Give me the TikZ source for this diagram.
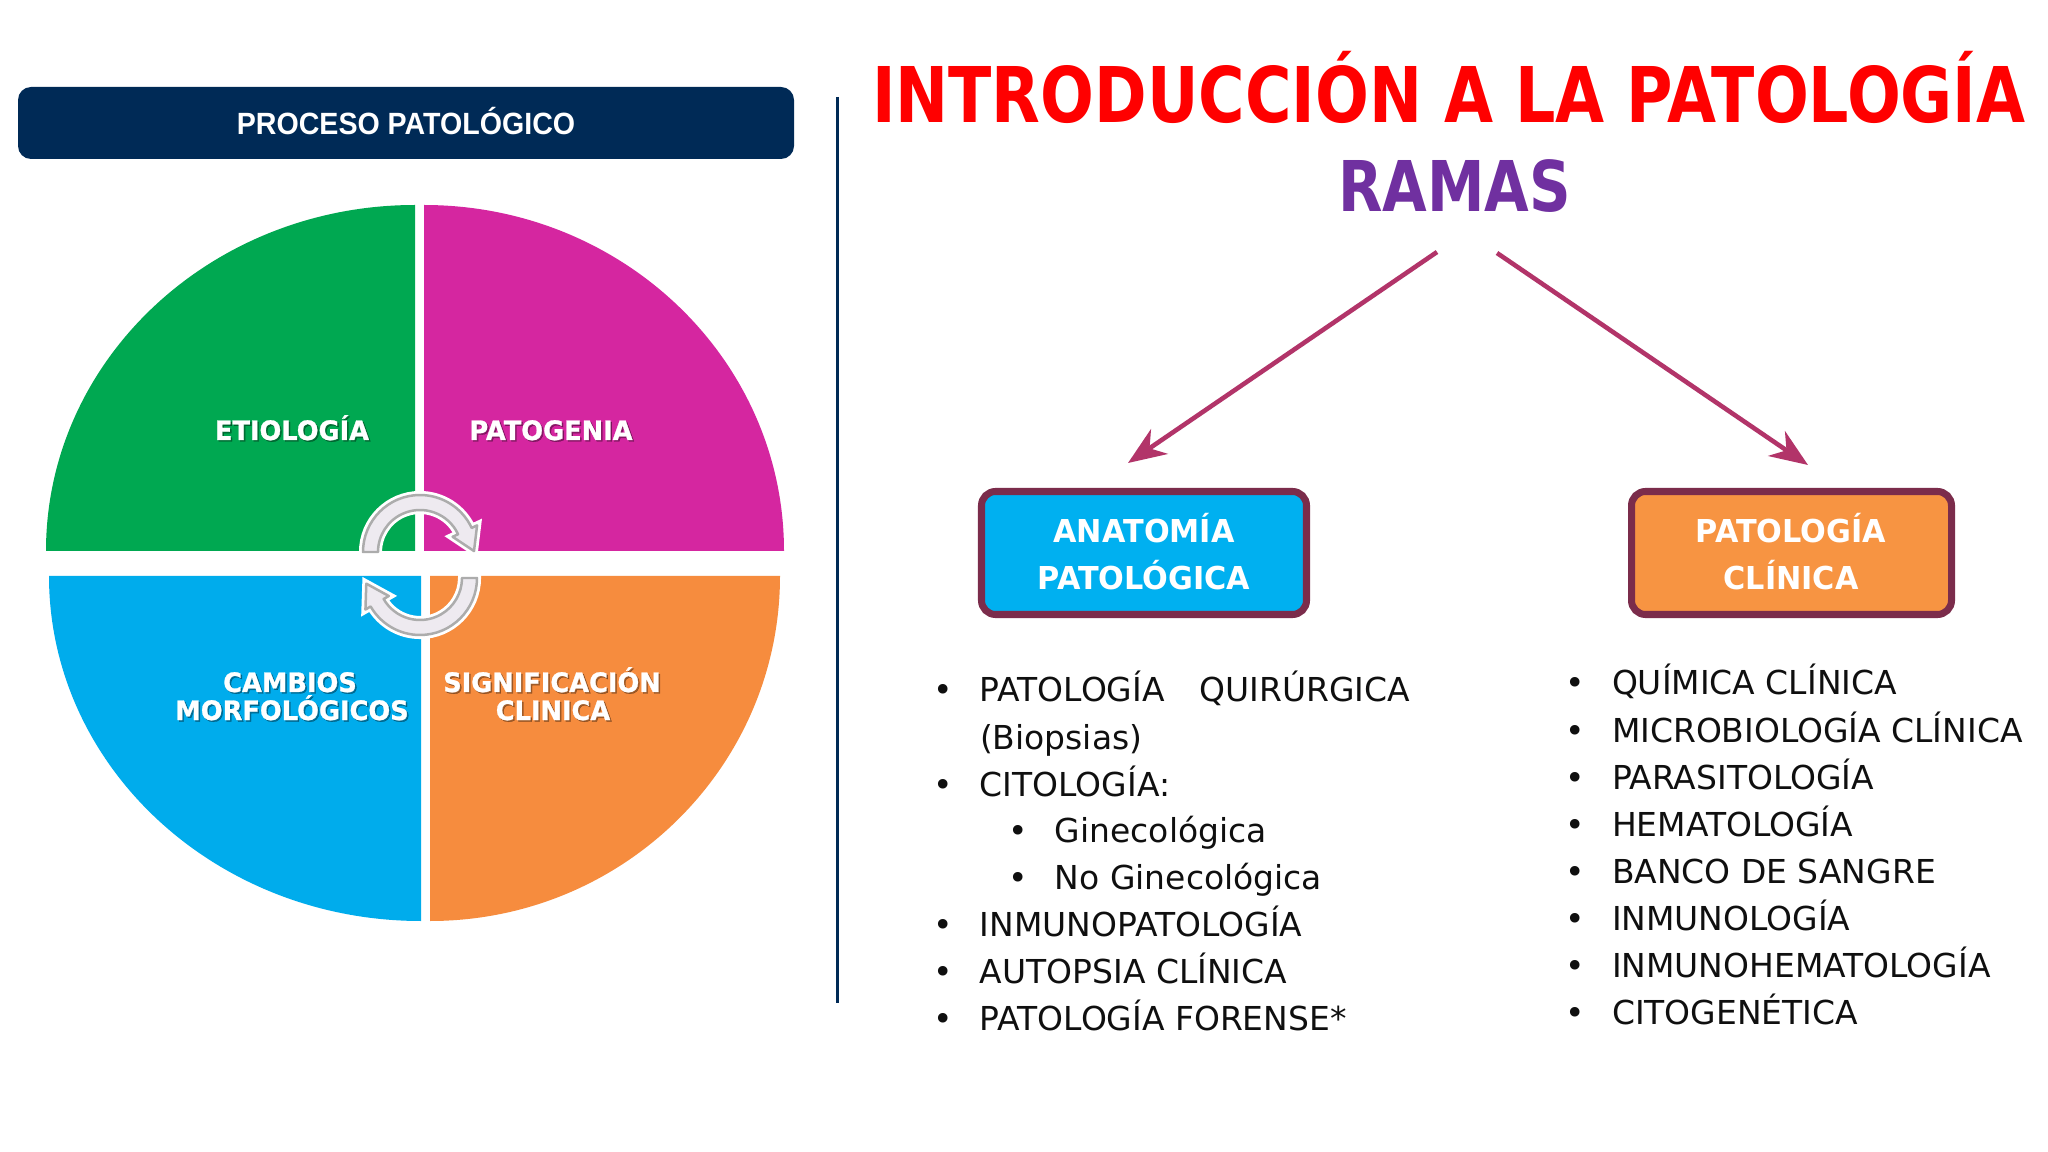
\documentclass[tikz,border=0pt]{standalone}
\usepackage{fontspec}
\setmainfont{DejaVu Sans}
\newfontfamily\titlef{DejaVu Sans}[FakeStretch=0.825]
\newfontfamily\headf{Liberation Sans}[FakeStretch=0.93]
\newfontfamily\pief{DejaVu Sans}[FakeStretch=0.96]
\newfontfamily\pieheavy{DejaVu Sans}[FakeStretch=0.96, FakeBold=1]
\newfontfamily\listf{DejaVu Sans}
\usetikzlibrary{arrows.meta}
\newlength\pxu
\setlength\pxu{0.01cm}
\definecolor{navy}{RGB}{0,42,86}
\definecolor{pgreen}{RGB}{0,168,81}
\definecolor{pmag}{RGB}{213,38,160}
\definecolor{pblue}{RGB}{0,172,236}
\definecolor{porange}{RGB}{246,140,62}
\definecolor{tred}{RGB}{255,0,0}
\definecolor{tpurple}{RGB}{112,48,160}
\definecolor{arrowc}{RGB}{178,52,105}
\definecolor{boxborder}{RGB}{123,44,75}
\definecolor{boxblue}{RGB}{0,176,240}
\definecolor{boxorange}{RGB}{247,148,66}
\definecolor{txt}{RGB}{15,15,15}
\definecolor{cycfill}{RGB}{238,234,240}
\begin{document}
\begin{tikzpicture}[x=0.01cm,y=-0.01cm,
  every node/.style={inner sep=0pt, outer sep=0pt},
  pielabel/.style={text=white, font=\pieheavy\bfseries\fontsize{7.6pt}{8pt}\selectfont, anchor=base},
  pieshadow/.style={text=black, opacity=0.35, font=\pieheavy\bfseries\fontsize{7.6pt}{8pt}\selectfont, anchor=base},
  cyc/.style={draw=gray!65, line width=0.71pt, fill=cycfill, line join=round, preaction={draw=white, line width=2.3pt}},
  branchbox/.style={draw=boxborder, line width=2pt, rounded corners=4pt, minimum height=123\pxu},
  boxtext/.style={text=white, anchor=base, font=\pief\bfseries\fontsize{8.97pt}{10pt}\selectfont},
  listitem/.style={anchor=base west, text=txt, font=\listf\fontsize{9.37pt}{11pt}\selectfont},
  branch/.style={draw=arrowc, line width=1.3pt, -{Stealth[length=10.8pt, width=8.5pt, inset=3.4pt]}}
]
\useasboundingbox (0,0) rectangle (2048,1152);
\fill[white] (0,0) rectangle (2048,1152);

% ---------- left panel ----------
\node[fill=navy, rounded corners=3.7pt, minimum width=776\pxu, minimum height=72\pxu,
      text=white, text height=6.26pt, text depth=0pt,
      font=\headf\bfseries\fontsize{8.74pt}{10pt}\selectfont] (hdr) at (406,123) {PROCESO PATOLÓGICO};

\fill[pgreen] (415,551) -- (46,551) arc[start angle=180,end angle=270,x radius=369,y radius=346] -- cycle;
\fill[pmag] (424,551) -- (424,205) arc[start angle=270,end angle=360,x radius=360,y radius=346] -- cycle;
\fill[pblue] (421,576) -- (421,921) arc[start angle=90,end angle=180,x radius=372,y radius=345] -- cycle;
\fill[porange] (430,576) -- (780,576) arc[start angle=0,end angle=90,x radius=350,y radius=345] -- cycle;

\begin{scope}[shift={(420,552)}]
  \draw[cyc] (180:57) arc[start angle=180,end angle=335,radius=57] -- (335:63) -- (359:54) -- (335:36) -- (335:42) arc[start angle=335,end angle=180,radius=42] -- cycle;
\end{scope}
\begin{scope}[shift={(420,578)}]
  \draw[cyc] (0:57) arc[start angle=0,end angle=150,radius=57] -- (150:63) -- (174:54) -- (150:36) -- (150:42) arc[start angle=150,end angle=0,radius=42] -- cycle;
\end{scope}

\node[pieshadow] (etioS) at (293.5,441.5) {ETIOLOGÍA};
\node[pielabel]  (etio)  at (292,440) {ETIOLOGÍA};
\node[pieshadow] (patoS) at (552.5,441.5) {PATOGENIA};
\node[pielabel]  (pato)  at (551,440) {PATOGENIA};
\node[pieshadow] (camAS) at (291.5,693.5) {CAMBIOS};
\node[pielabel]  (camA)  at (290,692) {CAMBIOS};
\node[pieshadow] (camBS) at (293.5,721.5) {MORFOLÓGICOS};
\node[pielabel]  (camB)  at (292,720) {MORFOLÓGICOS};
\node[pieshadow] (sigAS) at (553.5,693.5) {SIGNIFICACIÓN};
\node[pielabel]  (sigA)  at (552,692) {SIGNIFICACIÓN};
\node[pieshadow] (sigBS) at (554.5,721.5) {CLINICA};
\node[pielabel]  (sigB)  at (553,720) {CLINICA};

\draw[navy, line width=0.85pt] (837,97) -- (837,1003);

% ---------- right panel ----------
\node[anchor=base west, text=tred, font=\titlef\bfseries\fontsize{21.85pt}{24pt}\selectfont] (title) at (872,123) {INTRODUCCIÓN A LA PATOLOGÍA};
\node[anchor=base west, text=tpurple, font=\titlef\bfseries\fontsize{19.9pt}{22pt}\selectfont] (ramas) at (1338,212) {RAMAS};

\node[branchbox, fill=boxblue, minimum width=325\pxu] (ana) at (1144,553) {};
\node[branchbox, fill=boxorange, minimum width=320\pxu] (cli) at (1791.5,553) {};
\node[boxtext] (anaA) at (1144,543) {ANATOMÍA};
\node[boxtext] (anaB) at (1144,590) {PATOLÓGICA};
\node[boxtext] (cliA) at (1791,543) {PATOLOGÍA};
\node[boxtext] (cliB) at (1791,590) {CLÍNICA};

\coordinate (ramasL) at (1437,252);
\coordinate (ramasR) at (1497,253);
\coordinate (anaTip) at (1128,463);
\coordinate (cliTip) at (1808,465);
\draw[branch] (ramasL) -- (anaTip);
\draw[branch] (ramasR) -- (cliTip);

% left list
\node[listitem] (l1) at (933,702) {\makebox[47\pxu][l]{\textbullet}PATOLOGÍA\hspace{35\pxu}QUIRÚRGICA};
\node[listitem] (l1b) at (980,749) {(Biopsias)};
\node[listitem] (l2) at (933,796) {\makebox[47\pxu][l]{\textbullet}CITOLOGÍA:};
\node[listitem] (l2a) at (1008,842) {\makebox[47\pxu][l]{\textbullet}Ginecológica};
\node[listitem] (l2b) at (1008,889) {\makebox[47\pxu][l]{\textbullet}No Ginecológica};
\node[listitem] (l3) at (933,936) {\makebox[47\pxu][l]{\textbullet}INMUNOPATOLOGÍA};
\node[listitem] (l4) at (933,983) {\makebox[47\pxu][l]{\textbullet}AUTOPSIA CLÍNICA};
\node[listitem] (l5) at (933,1030) {\makebox[47\pxu][l]{\textbullet}PATOLOGÍA FORENSE*};

% right list
\node[listitem] (r1) at (1565,695) {\makebox[47\pxu][l]{\textbullet}QUÍMICA CLÍNICA};
\node[listitem] (r2) at (1565,742) {\makebox[47\pxu][l]{\textbullet}MICROBIOLOGÍA CLÍNICA};
\node[listitem] (r3) at (1565,789) {\makebox[47\pxu][l]{\textbullet}PARASITOLOGÍA};
\node[listitem] (r4) at (1565,836) {\makebox[47\pxu][l]{\textbullet}HEMATOLOGÍA};
\node[listitem] (r5) at (1565,883) {\makebox[47\pxu][l]{\textbullet}BANCO DE SANGRE};
\node[listitem] (r6) at (1565,930) {\makebox[47\pxu][l]{\textbullet}INMUNOLOGÍA};
\node[listitem] (r7) at (1565,977) {\makebox[47\pxu][l]{\textbullet}INMUNOHEMATOLOGÍA};
\node[listitem] (r8) at (1565,1024) {\makebox[47\pxu][l]{\textbullet}CITOGENÉTICA};
\end{tikzpicture}
\end{document}
